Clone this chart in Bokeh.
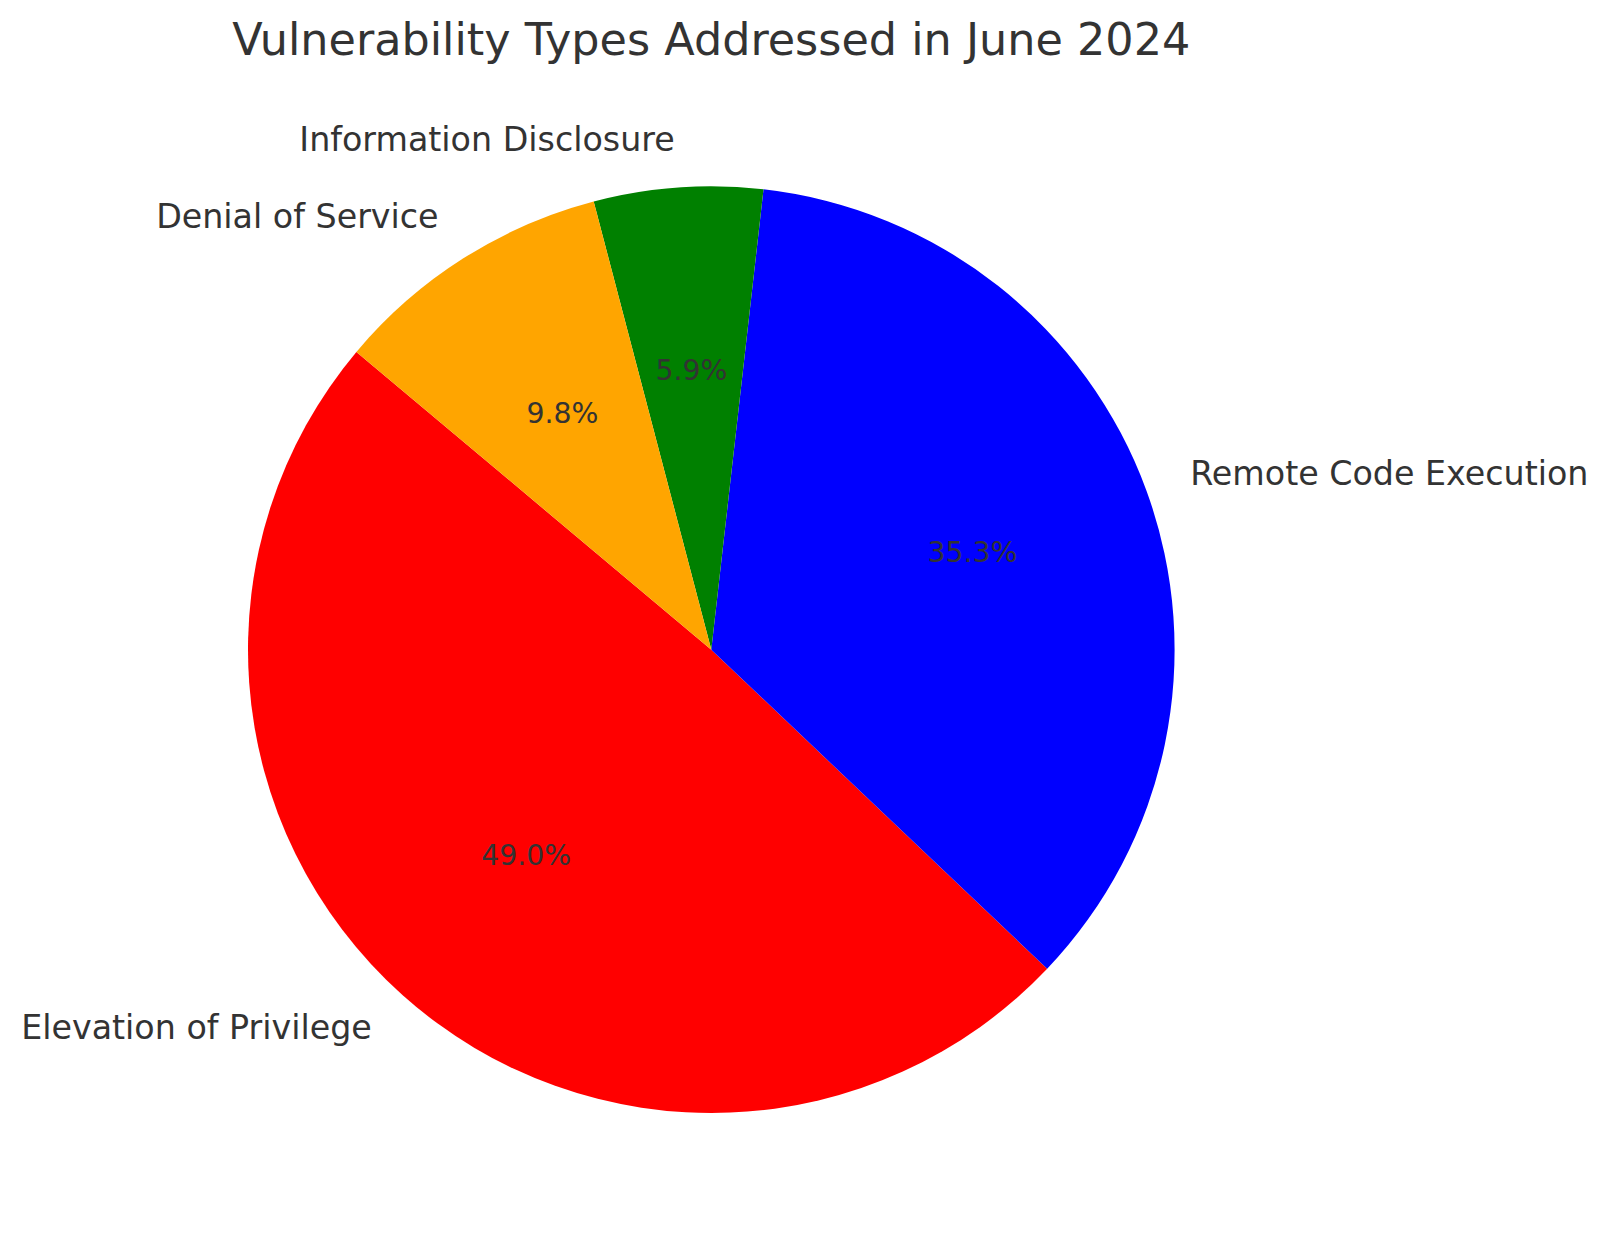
import math
from bokeh.plotting import figure
from bokeh.models import Range1d, ColumnDataSource
from bokeh.core.properties import value
from bokeh.embed import file_html
from bokeh.resources import INLINE

# Data
categories = ["Elevation of Privilege", "Remote Code Execution", "Information Disclosure", "Denial of Service"]
counts = [25, 18, 3, 5]
colors = ["red", "blue", "green", "orange"]
title_text = "Vulnerability Types Addressed in June 2024"
start_angle_deg = 140.0

FONT = "DejaVu Sans"
TXT = "#333333"
LABEL_PX = 33.3
PCT_PX = 28.3
TITLE_PX = 44.5

total = float(sum(counts))
starts, ends, mids, pcts = [], [], [], []
a = math.radians(start_angle_deg)
for c in counts:
    span = 2 * math.pi * c / total
    starts.append(a)
    ends.append(a + span)
    mids.append(a + span / 2)
    pcts.append("%.1f%%" % (100.0 * c / total))
    a += span

W, H = 1593, 1233
R_PX = 463.3
cx, cy = 710.8, 649.2
x0 = -cx / R_PX
x1 = x0 + W / R_PX
y1 = cy / R_PX
y0 = y1 - H / R_PX

p = figure(width=W, height=H, output_backend="svg", toolbar_location=None,
           x_range=Range1d(x0, x1), y_range=Range1d(y0, y1),
           min_border=0, outline_line_color=None)
p.axis.visible = False
p.grid.visible = False
p.background_fill_color = "white"
p.border_fill_color = "white"

src = ColumnDataSource(dict(start=starts, end=ends, color=colors))
p.wedge(x=0, y=0, radius=1.0, start_angle="start", end_angle="end",
        fill_color="color", line_color=None, source=src)

# category labels at 1.1 radius
lx = [1.1 * math.cos(m) for m in mids]
ly = [1.1 * math.sin(m) + 0.07 * LABEL_PX / R_PX for m in mids]
align = ["left" if x > 0 else "right" for x in lx]
lsrc = ColumnDataSource(dict(x=lx, y=ly, text=categories, align=align))
p.text(x="x", y="y", text="text", text_align="align", text_baseline="middle",
       text_font=value(FONT), text_font_size=f"{LABEL_PX}px", text_color=TXT, source=lsrc)

# percentage labels at 0.6 radius
px = [0.6 * math.cos(m) for m in mids]
py = [0.6 * math.sin(m) + 0.06 * PCT_PX / R_PX for m in mids]
psrc = ColumnDataSource(dict(x=px, y=py, text=pcts))
p.text(x="x", y="y", text="text", text_align="center", text_baseline="middle",
       text_font=value(FONT), text_font_size=f"{PCT_PX}px", text_color=TXT, source=psrc)

# title
p.text(x=[0.0], y=[(cy - 38.7) / R_PX], text=[title_text], text_align="center",
       text_baseline="middle", text_font=value(FONT), text_font_size=f"{TITLE_PX}px",
       text_color=TXT)

open("out.html", "w").write(file_html(p, INLINE))
